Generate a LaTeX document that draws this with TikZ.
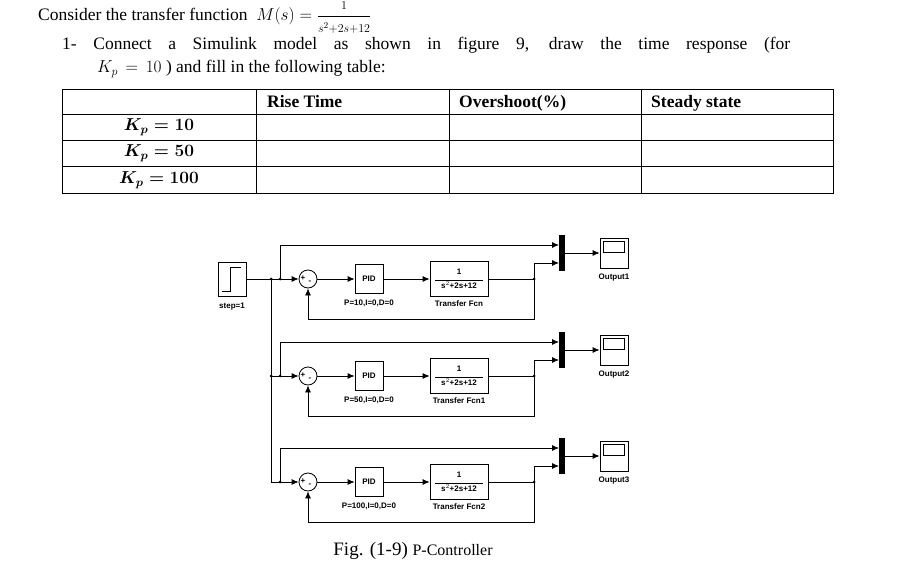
\documentclass[tikz,border=0pt]{standalone}
\usepackage{amsmath}
\usepackage{fontspec}
\setmainfont{Liberation Serif}
\newfontfamily\simfont{Liberation Sans}
\usetikzlibrary{arrows.meta}

\tikzset{
  blk/.style={draw, thick, inner sep=0pt},
  sig/.style={thick, -{Latex[length=7pt,width=6pt]}},
  wire/.style={thick},
  lbl/.style={font=\simfont\bfseries\fontsize{8}{9}\selectfont, inner sep=0pt},
  dot/.style={circle, fill, inner sep=0pt, minimum size=3pt},
}

\begin{document}
\begin{tikzpicture}[x=1pt,y=-1pt]
  \useasboundingbox (0,0) rectangle (899,561);
  \fontsize{17.5}{19}\selectfont

  % Text
  \node[anchor=base west, inner sep=0pt] (intro) at (38,21)
    {Consider the transfer function \ $M(s)=\dfrac{\scriptstyle 1}{\scriptstyle s^2+2s+12}$};
  \node[anchor=base west, inner sep=0pt] (task) at (62,50)
    {\makebox[728pt][s]{1- Connect a Simulink model as shown in figure 9, draw the time response (for}};
  \node[anchor=base west, inner sep=0pt] (task2) at (97,73)
    {$K_p\,=\,10$ ) and fill in the following table:};

  % Table
  \draw[thick] (62,89) rectangle (833,193);
  \foreach \yy in {114,140,166} \draw (62,\yy) -- (833,\yy);
  \foreach \xx in {256,449,641} \draw (\xx,89) -- (\xx,193);
  \node[anchor=base west, inner sep=0pt] (rt) at (267,108) {\textbf{Rise Time}};
  \node[anchor=base west, inner sep=0pt] (os) at (459,108) {\textbf{Overshoot(\%)}};
  \node[anchor=base west, inner sep=0pt] (ss) at (651,108) {\textbf{Steady state}};
  \node (kp1) at (159,127) {$\boldsymbol{K_p=10}$};
  \node (kp2) at (159,153) {$\boldsymbol{K_p=50}$};
  \node (kp3) at (159,180) {$\boldsymbol{K_p=100}$};

  % Step source
  \node[blk, minimum width=28pt, minimum height=34pt] (step) at (232,279) {};
  \draw[thick] (step.south west) ++(4,-5) -- ++(9,0) -- ++(0,-24) -- ++(10,0);
  \node[lbl, below=6pt] (steplbl) at (step.south) {step=1};
  \coordinate (j1) at (271,279);
  \coordinate (j3) at (271,482);
  \draw[wire] (step) -- (j1);
  \draw[wire] (j1) -- (j3);

  \foreach \i/\y/\kp/\tf in {1/279/10/Transfer Fcn, 2/376/50/Transfer Fcn1, 3/482/100/Transfer Fcn2}{
    \coordinate (s\i) at (280,\y);
    \node[draw, thick, circle, minimum size=18pt, inner sep=0pt] (sum\i) at (308,\y) {};
    \node[lbl] (plus\i) at (303,\y-1) {+};
    \node[lbl] (minus\i) at (310,\y+3) {-};
    \node[blk, minimum width=28pt, minimum height=29pt, font=\simfont\bfseries\fontsize{8}{9}\selectfont] (pid\i) at (369,\y) {PID};
    \node[lbl, below=6pt] (pidlbl\i) at (pid\i.south) {P=\kp,I=0,D=0};
    \node[blk, minimum width=58pt, minimum height=35pt, align=center, font=\simfont\bfseries\fontsize{8}{9}\selectfont] (tf\i) at (459,\y)
      {1\\[-3pt]\rule{48pt}{0.7pt}\\[-1pt]s$^2$+2s+12};
    \node[lbl, below=4pt] (tflbl\i) at (tf\i.south) {\tf};
    \coordinate (o\i) at (534,\y);
    \node[fill, minimum width=6pt, minimum height=36pt, inner sep=0pt] (mux\i) at (562,\y-26) {};
    \node[blk, minimum width=28pt, minimum height=30pt] (scope\i) at (614,\y-26) {};
    \draw[thick] ([shift={(4,4)}]scope\i.north west) rectangle ([shift={(-4,15)}]scope\i.north east);
    \node[lbl, below=5pt] (outlbl\i) at (scope\i.south) {Output\i};

    \node[dot] at (s\i) {};
    \draw[sig] (s\i) -- (sum\i);
    \draw[sig] (s\i) |- (559,\y-34);
    \draw[sig] (sum\i) -- (pid\i);
    \draw[sig] (pid\i) -- (tf\i);
    \draw[wire] (tf\i) -- (o\i);
    \node[dot] at (o\i) {};
    \draw[sig] (o\i) |- (559,\y-16);
    \draw[sig] (o\i) -- (534,\y+40) -| (sum\i.south);
    \draw[sig] (mux\i) -- (scope\i);
  }
  \draw[wire] (j1) -- (s1);
  \draw[wire] (271,376) -- (s2);
  \draw[wire] (j3) -- (s3);
  \node[dot] at (j1) {};
  \node[dot] at (271,376) {};

  % Caption
  \node[anchor=base, inner sep=0pt] (cap) at (413,555)
    {\fontsize{19}{21}\selectfont Fig. (1-9) \fontsize{16}{18}\selectfont P-Controller};
\end{tikzpicture}
\end{document}
